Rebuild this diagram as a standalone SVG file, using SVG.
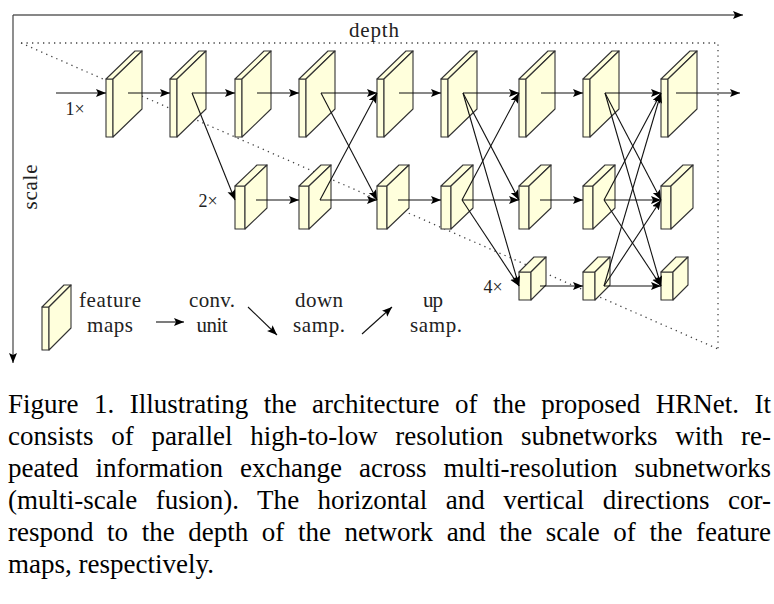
<svg xmlns="http://www.w3.org/2000/svg" xmlns:xlink="http://www.w3.org/1999/xlink" width="774" height="604" viewBox="0 0 774 604">
<style>
.fm{fill:#FFFFDC;stroke:#333;stroke-width:1.1;stroke-linejoin:round}
.c{stroke:#111;stroke-width:1.1;fill:none;marker-end:url(#ah)}
.ax{stroke:#111;stroke-width:1.2;fill:none;marker-end:url(#ah)}
.dot{stroke:#444;stroke-width:1.3;fill:none;stroke-dasharray:1.3 4.2}
.t{font-family:"Liberation Serif","Times New Roman",serif;font-size:21px;fill:#222}
.lab{font-family:"Liberation Serif","Times New Roman",serif;font-size:18px;fill:#222}
.cap{font-family:"Liberation Serif","Times New Roman",serif;font-size:27px;fill:#000}
</style>
<defs>
<marker id="ah" markerUnits="userSpaceOnUse" markerWidth="11" markerHeight="9" refX="10" refY="4" orient="auto" viewBox="0 0 11 9">
<path d="M0,0 L10,4 L0,8 L2,4 Z" fill="#000"/>
</marker>
<g id="b1"><rect class="fm" x="0" y="0" width="7" height="58"/><path class="fm" d="M0,0 L7,0 L36,-28 L29,-28 Z"/><path class="fm" d="M7,0 L36,-28 L36,30 L7,58 Z"/></g>
<g id="b2"><rect class="fm" x="0" y="0" width="10" height="43"/><path class="fm" d="M0,0 L10,0 L32,-21 L22,-21 Z"/><path class="fm" d="M10,0 L32,-21 L32,22 L10,43 Z"/></g>
<g id="b3"><rect class="fm" x="0" y="0" width="12" height="28"/><path class="fm" d="M0,0 L12,0 L27,-15 L15,-15 Z"/><path class="fm" d="M12,0 L27,-15 L27,13 L12,28 Z"/></g>
<g id="bl"><rect class="fm" x="0" y="0" width="7" height="43"/><path class="fm" d="M0,0 L7,0 L29,-22 L22,-22 Z"/><path class="fm" d="M7,0 L29,-22 L29,21 L7,43 Z"/></g>
</defs>
<rect width="774" height="604" fill="#fff"/>
<g id="axes">
<line class="ax" x1="13" y1="15" x2="743" y2="15"/>
<line class="ax" x1="13" y1="15" x2="13" y2="363" style="stroke:#444"/>
<text class="t" x="374" y="37" text-anchor="middle" textLength="50">depth</text>
<text class="t" transform="translate(37,187) rotate(-90)" text-anchor="middle" textLength="45">scale</text>
</g>
<g id="region">
<polyline class="dot" points="21,43 718,43 718,349"/>
<line class="dot" x1="21" y1="43" x2="718" y2="349"/>
</g>
<g id="row1">
<g id="n1_1"><use xlink:href="#b1" x="106" y="79"/></g>
<g id="n1_2"><use xlink:href="#b1" x="170" y="79"/></g>
<g id="n1_3"><use xlink:href="#b1" x="235" y="79"/></g>
<g id="n1_4"><use xlink:href="#b1" x="299" y="79"/></g>
<g id="n1_5"><use xlink:href="#b1" x="377" y="79"/></g>
<g id="n1_6"><use xlink:href="#b1" x="441" y="79"/></g>
<g id="n1_7"><use xlink:href="#b1" x="519" y="79"/></g>
<g id="n1_8"><use xlink:href="#b1" x="583" y="79"/></g>
<g id="n1_9"><use xlink:href="#b1" x="661" y="79"/></g>
</g>
<g id="row2">
<g id="n2_3"><use xlink:href="#b2" x="235" y="186"/></g>
<g id="n2_4"><use xlink:href="#b2" x="299" y="186"/></g>
<g id="n2_5"><use xlink:href="#b2" x="377" y="186"/></g>
<g id="n2_6"><use xlink:href="#b2" x="441" y="186"/></g>
<g id="n2_7"><use xlink:href="#b2" x="519" y="186"/></g>
<g id="n2_8"><use xlink:href="#b2" x="583" y="186"/></g>
<g id="n2_9"><use xlink:href="#b2" x="661" y="186"/></g>
</g>
<g id="row3">
<g id="n3_7"><use xlink:href="#b3" x="519" y="272"/></g>
<g id="n3_8"><use xlink:href="#b3" x="583" y="272"/></g>
<g id="n3_9"><use xlink:href="#b3" x="661" y="272"/></g>
</g>
<g id="connectors">
<line class="c" x1="56" y1="93" x2="106" y2="93"/>
<line class="c" x1="128" y1="93" x2="170" y2="93"/>
<line class="c" x1="192" y1="93" x2="235" y2="93"/>
<line class="c" x1="257" y1="93" x2="299" y2="93"/>
<line class="c" x1="321" y1="93" x2="377" y2="93"/>
<line class="c" x1="399" y1="93" x2="441" y2="93"/>
<line class="c" x1="463" y1="93" x2="519" y2="93"/>
<line class="c" x1="541" y1="93" x2="583" y2="93"/>
<line class="c" x1="605" y1="93" x2="661" y2="93"/>
<line class="c" x1="676" y1="93" x2="740" y2="93"/>
<line class="c" x1="256" y1="200" x2="299" y2="200"/>
<line class="c" x1="320" y1="200" x2="377" y2="200"/>
<line class="c" x1="398" y1="200" x2="441" y2="200"/>
<line class="c" x1="462" y1="200" x2="519" y2="200"/>
<line class="c" x1="540" y1="200" x2="583" y2="200"/>
<line class="c" x1="604" y1="200" x2="661" y2="200"/>
<line class="c" x1="540" y1="286" x2="583" y2="286"/>
<line class="c" x1="604" y1="286" x2="661" y2="286"/>
<line class="c" x1="192" y1="93" x2="235" y2="200"/>
<line class="c" x1="321" y1="93" x2="377" y2="200"/>
<line class="c" x1="320" y1="200" x2="377" y2="93"/>
<line class="c" x1="463" y1="93" x2="519" y2="200"/>
<line class="c" x1="463" y1="93" x2="519" y2="286"/>
<line class="c" x1="462" y1="200" x2="519" y2="93"/>
<line class="c" x1="462" y1="200" x2="519" y2="286"/>
<line class="c" x1="605" y1="93" x2="661" y2="200"/>
<line class="c" x1="605" y1="93" x2="661" y2="286"/>
<line class="c" x1="604" y1="200" x2="661" y2="93"/>
<line class="c" x1="604" y1="200" x2="661" y2="286"/>
<line class="c" x1="604" y1="286" x2="661" y2="93"/>
<line class="c" x1="604" y1="286" x2="661" y2="200"/>
</g>
<g id="labels">
<text class="lab" x="75" y="115" text-anchor="middle">1×</text>
<text class="lab" x="208" y="207" text-anchor="middle">2×</text>
<text class="lab" x="493" y="293" text-anchor="middle">4×</text>
</g>
<g id="legend">
<g id="leg_fm"><use xlink:href="#bl" x="42" y="307"/></g>
<text class="t" x="110" y="307" text-anchor="middle" textLength="62">feature</text>
<text class="t" x="110" y="332" text-anchor="middle" textLength="46">maps</text>
<line class="c" x1="156" y1="322" x2="184" y2="322"/>
<text class="t" x="212" y="307" text-anchor="middle" textLength="46">conv.</text>
<text class="t" x="212" y="332" text-anchor="middle" textLength="31">unit</text>
<line class="c" x1="248" y1="307" x2="277" y2="335"/>
<text class="t" x="319" y="307" text-anchor="middle" textLength="48">down</text>
<text class="t" x="319" y="332" text-anchor="middle" textLength="52">samp.</text>
<line class="c" x1="362" y1="334" x2="392" y2="307"/>
<text class="t" x="433" y="307" text-anchor="middle" textLength="20">up</text>
<text class="t" x="436" y="332" text-anchor="middle" textLength="52">samp.</text>
</g>
<g id="caption">
<text class="cap" x="8" y="413" word-spacing="8.7" textLength="763" lengthAdjust="spacing">Figure 1. Illustrating the architecture of the proposed HRNet. It</text>
<text class="cap" x="8" y="445" word-spacing="11" textLength="763" lengthAdjust="spacing">consists of parallel high-to-low resolution subnetworks with re-</text>
<text class="cap" x="8" y="477" word-spacing="10.3" textLength="763" lengthAdjust="spacing">peated information exchange across multi-resolution subnetworks</text>
<text class="cap" x="8" y="509" word-spacing="11.7" textLength="763" lengthAdjust="spacing">(multi-scale fusion). The horizontal and vertical directions cor-</text>
<text class="cap" x="8" y="541" word-spacing="6.85" textLength="763" lengthAdjust="spacing">respond to the depth of the network and the scale of the feature</text>
<text class="cap" x="8" y="573">maps, respectively.</text>
</g>
</svg>
